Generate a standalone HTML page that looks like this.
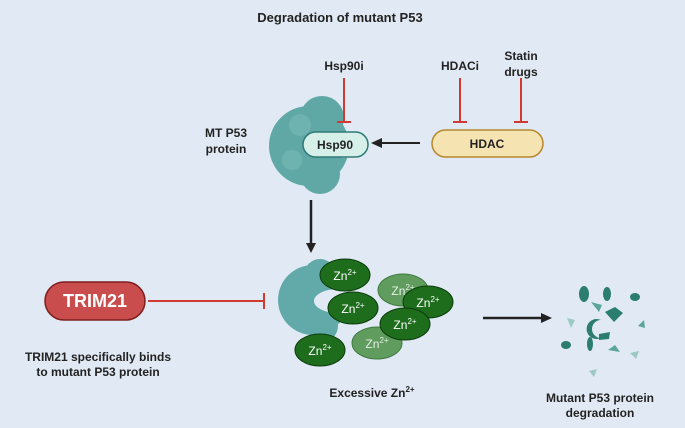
<!DOCTYPE html>
<html><head><meta charset="utf-8"><style>
html,body{margin:0;padding:0;background:#e1eaf4;}
svg{display:block;font-family:"Liberation Sans",sans-serif;}
</style></head><body>
<svg width="685" height="428" viewBox="0 0 685 428" xmlns="http://www.w3.org/2000/svg">
<rect width="685" height="428" fill="#e1eaf4"/>
<text x="340" y="22" text-anchor="middle" font-size="13" font-weight="bold" fill="#222">Degradation of mutant P53</text>

<g font-size="12" font-weight="bold" fill="#222" text-anchor="middle">
<text x="344" y="70">Hsp90i</text>
<text x="460" y="70">HDACi</text>
<text x="521" y="60">Statin</text>
<text x="521" y="76">drugs</text>
<text x="226" y="137">MT  P53</text>
<text x="226" y="153">protein</text>
<text x="98" y="361">TRIM21 specifically binds</text>
<text x="98" y="376">to mutant P53 protein</text>
<text x="372" y="397">Excessive Zn<tspan font-size="8" dy="-5">2+</tspan></text>
<text x="600" y="402">Mutant P53 protein</text>
<text x="600" y="417">degradation</text>
</g>

<!-- protein 1 -->
<circle cx="309" cy="146" r="40" fill="#5fa8a6"/>
<circle cx="322" cy="118" r="22" fill="#5fa8a6"/>
<circle cx="320" cy="174" r="20" fill="#5fa8a6"/>
<circle cx="300" cy="125" r="11" fill="#6fb3b0"/>
<circle cx="292" cy="160" r="10" fill="#6fb3b0"/>
<ellipse cx="345" cy="146" rx="16" ry="12" fill="#e1eaf4"/>

<!-- inhibitors -->
<g stroke="#d03a30" stroke-width="2" fill="none">
<path d="M344 78V122M337 122H351"/>
<path d="M460 78V122M453 122H467"/>
<path d="M521 78V122M514 122H528"/>
<path d="M148 301H264M264 293V309"/>
</g>

<rect x="303" y="132" width="65" height="25" rx="12.5" fill="#d7efe9" stroke="#2e7b74" stroke-width="1.5"/>
<text x="335" y="149" text-anchor="middle" font-size="12" font-weight="bold" fill="#222">Hsp90</text>

<rect x="432" y="130" width="111" height="27" rx="13.5" fill="#f6e3b2" stroke="#b5872f" stroke-width="1.5"/>
<text x="487" y="148" text-anchor="middle" font-size="12" font-weight="bold" fill="#222">HDAC</text>

<!-- arrows -->
<path d="M420 143H380" stroke="#222" stroke-width="2"/>
<path d="M371 143L382 138V148Z" fill="#222"/>
<path d="M311 200V244" stroke="#222" stroke-width="2.5"/>
<path d="M311 253L306 243H316Z" fill="#222"/>
<path d="M483 318H542" stroke="#222" stroke-width="2.5"/>
<path d="M552 318L541 313V323Z" fill="#222"/>

<!-- TRIM21 -->
<rect x="45" y="282" width="100" height="38" rx="19" fill="#c94d4d" stroke="#7d1f1f" stroke-width="1.5"/>
<text x="95" y="307" text-anchor="middle" font-size="18" font-weight="bold" fill="#fff">TRIM21</text>

<!-- protein 2 -->
<circle cx="313" cy="300" r="35" fill="#62aaa9"/>
<circle cx="320" cy="275" r="16" fill="#62aaa9"/>
<circle cx="322" cy="326" r="16" fill="#62aaa9"/>
<ellipse cx="338" cy="301" rx="24" ry="12" fill="#e1eaf4"/>

<!-- Zn -->
<g font-size="12" fill="#fff" text-anchor="middle">
<ellipse cx="403" cy="290" rx="25" ry="16" fill="#5f9c5e" stroke="#3f7a3f"/>
<text x="403" y="295" opacity=".85">Zn<tspan font-size="8" dy="-5">2+</tspan></text>
<ellipse cx="377" cy="343" rx="25" ry="16" fill="#5f9c5e" stroke="#3f7a3f"/>
<text x="377" y="348" opacity=".85">Zn<tspan font-size="8" dy="-5">2+</tspan></text>
<ellipse cx="345" cy="275" rx="25" ry="16" fill="#1d6d1d" stroke="#0b3a0b"/>
<text x="345" y="280">Zn<tspan font-size="8" dy="-5">2+</tspan></text>
<ellipse cx="353" cy="308" rx="25" ry="16" fill="#1d6d1d" stroke="#0b3a0b"/>
<text x="353" y="313">Zn<tspan font-size="8" dy="-5">2+</tspan></text>
<ellipse cx="320" cy="350" rx="25" ry="16" fill="#1d6d1d" stroke="#0b3a0b"/>
<text x="320" y="355">Zn<tspan font-size="8" dy="-5">2+</tspan></text>
<ellipse cx="428" cy="302" rx="25" ry="16" fill="#1d6d1d" stroke="#0b3a0b"/>
<text x="428" y="307">Zn<tspan font-size="8" dy="-5">2+</tspan></text>
<ellipse cx="405" cy="324" rx="25" ry="16" fill="#1d6d1d" stroke="#0b3a0b"/>
<text x="405" y="329">Zn<tspan font-size="8" dy="-5">2+</tspan></text>
</g>

<!-- fragments -->
<g fill="#2b7d70">
<ellipse cx="584" cy="294" rx="5" ry="8"/>
<ellipse cx="607" cy="294" rx="4" ry="7"/>
<ellipse cx="635" cy="297" rx="5" ry="4"/>
<path d="M605 312l10-5 8 6-9 9z"/>
<path d="M601 320a10 10 0 1 0 0 18a5 5 0 0 1 0-18z"/>
<path d="M619 316a10 10 0 1 1 0 20a5 5 0 0 0 0-20z"/>
<path d="M599 334l11 -2-1 7-10 1z"/>
<ellipse cx="566" cy="345" rx="5" ry="4"/>
<ellipse cx="590" cy="344" rx="3" ry="7"/>
</g>
<g fill="#5aa69a"><path d="M591 302l11 3-3 7z"/><path d="M608 350l7-5 5 7z"/><path d="M644 320l-6 6 7 2z"/></g>
<g fill="#9dc9c3"><path d="M567 318l8 2-4 8z"/><path d="M630 353l9-2-3 8z"/><path d="M589 371l8-2-3 8z"/></g>
</svg>
</body></html>
